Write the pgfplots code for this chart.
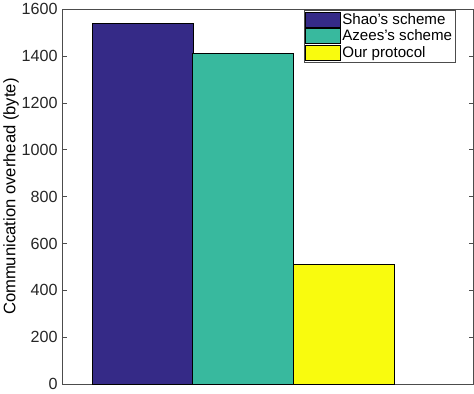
\documentclass[border=0pt]{standalone}
\usepackage{pgfplots}
\pgfplotsset{compat=1.18}
\usepackage{fontspec}
\setmainfont{Liberation Sans}
\definecolor{cshao}{HTML}{352A87}
\definecolor{cazees}{HTML}{38B99E}
\definecolor{cours}{HTML}{F9FB0E}
\begin{document}
\begin{tikzpicture}[x=1bp,y=1bp]
\begin{axis}[
  scale only axis,
  width=408bp, height=372bp,
  xmin=0.65, xmax=4.73,
  ymin=0, ymax=1600,
  ytick={0,200,400,600,800,1000,1200,1400,1600},
  xtick=\empty,
  ybar, bar width=1.0, bar shift=0pt,
  /pgf/number format/assume math mode=true,
  /pgf/number format/1000 sep={},
  tick label style={font=\fontsize{16bp}{18bp}\selectfont, color=black!85},
  yticklabel style={xshift=-1bp},
  ylabel={Communication overhead (byte)},
  ylabel style={font=\fontsize{16.5bp}{18bp}\selectfont, yshift=-4bp},
  axis line style={black!70, line width=0.8bp},
  major tick length=5bp,
  tick style={black!70, line width=0.6bp},
  ytick pos=both,
  legend style={at={(0.956,0.997)}, anchor=north east,
    font=\fontsize{15bp}{17bp}\selectfont, draw=black!70, line width=0.6bp,
    inner sep=1bp, row sep=0bp},
  legend cell align=left,
  legend image code/.code={\draw[#1, draw=black] (0bp,-7.5bp) rectangle (34bp,7.5bp);},
]
\addplot[fill=cshao, draw=black, line width=0.6bp] coordinates {(1.45,1540)};
\addplot[fill=cazees, draw=black, line width=0.6bp] coordinates {(2.445,1410)};
\addplot[fill=cours, draw=black, line width=0.6bp] coordinates {(3.445,513)};
\legend{Shao's scheme, Azees's scheme, Our protocol}
\end{axis}
\end{tikzpicture}
\end{document}
